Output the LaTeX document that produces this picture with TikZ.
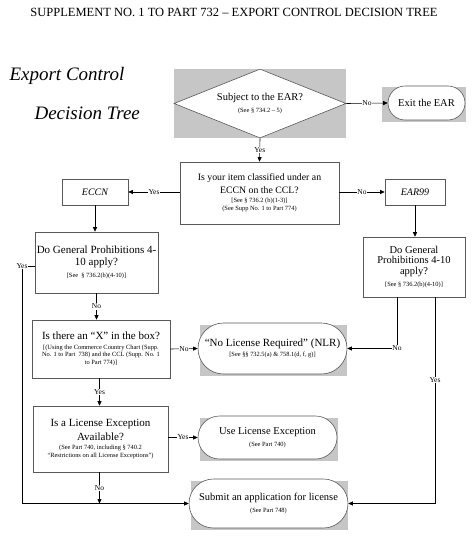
\documentclass[tikz,border=0pt]{standalone}
\usepackage{fontspec}
\setmainfont{Liberation Serif}
\usetikzlibrary{shapes,arrows.meta,positioning,calc}

\newcommand\mainf{\fontsize{10.5}{12.5}\selectfont}
\newcommand\notef{\fontsize{6.4}{7.6}\selectfont}
\newcommand\mtxt[1]{{\mainf #1}}
\newcommand\btxt[1]{{\fontsize{11}{13}\selectfont #1}}

\tikzset{
  qbox/.style={draw=black!65, line width=0.6pt, fill=white, align=center, inner sep=0pt, font=\notef},
  termbox/.style={rounded rectangle, draw=black!65, line width=0.6pt, fill=white, align=center, inner sep=0pt, font=\notef},
  shadebox/.style={fill=gray!45, inner sep=0pt},
  link/.style={-{Triangle[length=4.5pt,width=4pt]}, line width=0.6pt},
  tag/.style={font=\fontsize{7.5}{8}\selectfont, fill=white, inner sep=0.6pt},
}

\begin{document}
\begin{tikzpicture}[x=1pt,y=-1pt]
    \useasboundingbox (0,0) rectangle (474,538);
    \node[font=\fontsize{12.5}{14}\selectfont] (title) at (234,12.5) {SUPPLEMENT NO. 1 TO PART 732 – EXPORT CONTROL DECISION TREE};
    \node[anchor=west, font=\fontsize{19}{21}\selectfont\itshape] (head1) at (6,76) {Export Control};
    \node[anchor=west, font=\fontsize{19}{21}\selectfont\itshape] (head2) at (31,113) {Decision Tree};

    % grey backs
    \node[shadebox, minimum width=172pt, minimum height=69pt] (earbg) at (260,103.5) {};
    \node[shadebox, minimum width=84pt, minimum height=35pt] (exitbg) at (424,104.5) {};
    \node[shadebox, minimum width=147pt, minimum height=51pt] (nlrbg) at (273.5,350.5) {};
    \node[shadebox, minimum width=138pt, minimum height=43pt] (usebg) at (269,439.5) {};
    \node[shadebox, minimum width=157pt, minimum height=49pt] (submitbg) at (269.5,505.5) {};

    % boxes
    \node[diamond, aspect=2.5, draw=black!65, fill=white, line width=0.6pt, minimum width=172pt, minimum height=69pt, inner sep=0pt, align=center, font=\notef] (ear) at (260,103.5)
        {\mtxt{Subject to the EAR?}\\[3.5pt](See § 734.2 – 5)};
    \node[termbox, minimum width=77pt, minimum height=34pt, font=\mainf] (exit) at (426.5,103) {Exit the EAR};
    \node[qbox, minimum width=159pt, minimum height=62pt] (classify) at (259.5,193)
        {{\fontsize{9.8}{11}\selectfont Is your item classified under an}\\[2.5pt]{\fontsize{9.8}{11}\selectfont ECCN on the CCL?}\\[2pt][See § 736.2 (b)(1-3)]\\(See Supp No. 1 to Part 774)};
    \node[qbox, minimum width=66pt, minimum height=26pt, font=\fontsize{10}{12}\selectfont\itshape] (eccn) at (95,192) {ECCN};
    \node[qbox, minimum width=60pt, minimum height=26pt, font=\fontsize{10}{12}\selectfont\itshape] (ear99) at (415,192) {EAR99};
    \node[qbox, minimum width=123pt, minimum height=61pt] (gpl) at (96.5,262.5)
        {\btxt{Do General Prohibitions 4-}\\[3pt]\btxt{10 apply?}\\[5pt][See \ § 736.2(b)(4-10)]};
    \node[qbox, minimum width=102pt, minimum height=60pt] (gpr) at (414,267)
        {\mtxt{Do General}\\[3pt]\mtxt{Prohibitions 4-10}\\[3pt]\mtxt{apply?}\\[4.5pt][See § 736.2(b)(4-10)]};
    \node[qbox, minimum width=138pt, minimum height=58pt] (xbox) at (101,349)
        {\btxt{Is there an “X” in the box?}\\[1.5pt][(Using the Commerce Country Chart (Supp.\\No. 1 to Part \ 738) and the CCL (Supp. No. 1\\to Part 774)]};
    \node[termbox, minimum width=149pt, minimum height=51pt] (nlr) at (272.5,348.5)
        {\btxt{“No License Required” (NLR)}\\[2pt][See §§ 732.5(a) \& 758.1(d, f, g)]};
    \node[qbox, minimum width=135pt, minimum height=66pt] (lebox) at (100.5,439)
        {\btxt{Is a License Exception}\\[3pt]\btxt{Available?}\\[1pt](See Part 740, including § 740.2\\“Restrictions on all License Exceptions”)};
    \node[termbox, minimum width=139pt, minimum height=43pt] (use) at (267.5,437.5)
        {\mtxt{Use License Exception}\\[4pt](See Part 740)};
    \node[termbox, minimum width=159pt, minimum height=49pt] (submit) at (268.5,503.5)
        {\mtxt{Submit an application for license}\\[5pt](See Part 748)};

    % corners
    \coordinate (yesleft) at (22,266);
    \coordinate (noright) at (397,348.5);
    \coordinate (yesright) at (435,503.5);

    % links
    \draw[link] (ear.east) -- node[tag] {No} (exit.west);
    \draw[link] (ear.south) -- node[tag] {Yes} (classify.north);
    \draw[link] (classify.west |- eccn.east) -- node[tag] {Yes} (eccn.east);
    \draw[link] (classify.east |- ear99.west) -- node[tag] {No} (ear99.west);
    \draw[link] (eccn.south) -- (eccn.south |- gpl.north);
    \draw[link] (ear99.south) -- (ear99.south |- gpr.north);
    \draw[link] (gpl.south) -- node[tag] {No} (gpl.south |- xbox.north);
    \draw[link] (xbox.east) -- node[tag] {No} (nlr.west);
    \draw[link] (xbox.south -| gpl.south) ++(3,0) -- node[tag] {Yes} ($(gpl.south |- lebox.north)+(3,0)$);
    \draw[link] (lebox.east |- use.west) -- node[tag] {Yes} (use.west);
    \draw[link] (lebox.south -| gpl.south) ++(3,0) -- node[tag] {No} ($(gpl.south |- submit.west)+(3,0)$);
    \draw[link] (gpl.west |- yesleft) -- (yesleft) -- (yesleft |- submit.west) -- (submit.west);
    \node[tag] (yeslefttag) at (yesleft) {Yes};
    \draw[link] (gpr.south -| noright) -- (noright) -- (nlr.east);
    \node[tag] (norighttag) at (noright) {No};
    \draw[link] (gpr.south -| yesright) -- node[tag, pos=0.4] {Yes} (yesright) -- (submit.east);
\end{tikzpicture}
\end{document}
